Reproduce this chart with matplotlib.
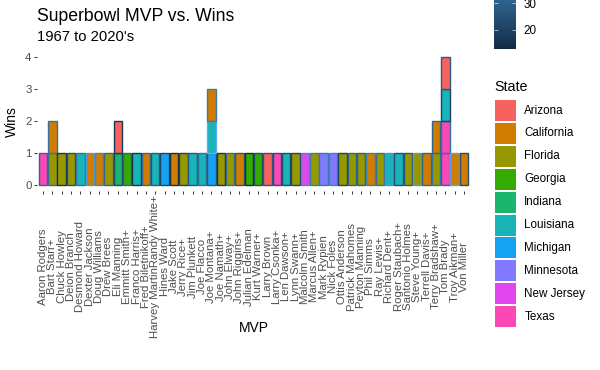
import numpy as np
import pandas as pd
import matplotlib
matplotlib.use("Agg")
import matplotlib.pyplot as plt
from matplotlib.colors import LinearSegmentedColormap, Normalize
from matplotlib.cm import ScalarMappable
from matplotlib.patches import Rectangle

plt.rcParams['font.family'] = ['Liberation Sans', 'DejaVu Sans']

states = ["Arizona", "California", "Florida", "Georgia", "Indiana",
          "Louisiana", "Michigan", "Minnesota", "New Jersey", "Texas"]
state_colors = ["#F6625D", "#CF7C00", "#979700", "#35AA00", "#1CB56F",
                "#18B4B8", "#15A2F0", "#8179FF", "#E048EE", "#FC48B6"]

# one row per Super Bowl: MVP, host state, winning team's points
game_mvp = [
    "Aaron Rodgers", "Bart Starr+", "Bart Starr+", "Chuck Howley", "Deion Branch",
    "Desmond Howard", "Dexter Jackson", "Doug Williams", "Drew Brees",
    "Eli Manning", "Eli Manning", "Emmitt Smith+", "Franco Harris+",
    "Fred Biletnikoff+", "Harvey MartinRandy White+", "Hines Ward", "Jake Scott",
    "Jerry Rice+", "Jim Plunkett", "Joe Flacco", "Joe Montana+", "Joe Montana+",
    "Joe Montana+", "Joe Namath+", "John Elway+", "John Riggins+", "Julian Edelman",
    "Kurt Warner+", "Larry Brown", "Larry Csonka+", "Len Dawson+", "Lynn Swann+",
    "Malcolm Smith", "Marcus Allen+", "Mark Rypien", "Nick Foles", "Ottis Anderson",
    "Patrick Mahomes", "Peyton Manning", "Phil Simms", "Ray Lewis+", "Richard Dent+",
    "Roger Staubach+", "Santonio Holmes", "Steve Young+", "Terrell Davis+",
    "Terry Bradshaw+", "Terry Bradshaw+", "Tom Brady", "Tom Brady", "Tom Brady",
    "Tom Brady", "Troy Aikman+", "Von Miller",
]
game_state = [
    "Texas", "California", "Florida", "Florida", "Florida",
    "Louisiana", "California", "California", "Florida",
    "Arizona", "Indiana", "Georgia", "Louisiana",
    "California", "Louisiana", "Michigan", "California",
    "Florida", "Louisiana", "Louisiana", "Michigan", "California",
    "Louisiana", "Florida", "Florida", "California", "Georgia",
    "Georgia", "Arizona", "Texas", "Louisiana", "Florida",
    "New Jersey", "Florida", "Minnesota", "Minnesota", "Florida",
    "Florida", "Florida", "California", "Florida", "Louisiana",
    "Louisiana", "Florida", "Florida", "California",
    "Florida", "California", "Louisiana", "Texas", "Arizona",
    "Texas", "California", "California",
]
game_pts = [
    31, 35, 33, 16, 24,
    35, 48, 42, 31,
    17, 21, 30, 16,
    32, 27, 21, 14,
    20, 27, 34, 26, 38,
    55, 16, 34, 27, 13,
    23, 27, 24, 23, 21,
    43, 38, 37, 41, 20,
    31, 29, 39, 34, 46,
    24, 27, 49, 31,
    35, 31, 20, 32, 28,
    34, 52, 24,
]

df = pd.DataFrame({"MVP": game_mvp, "State": game_state, "Pts": game_pts})
df["Wins"] = 1
mvps = sorted(df["MVP"].unique())
df["x"] = df["MVP"].map({m: i for i, m in enumerate(mvps)})
df["level"] = df["State"].map({s: i for i, s in enumerate(states)})
# first state level ends up on top of the stack
df = df.sort_values(["x", "level"], ascending=[True, False], kind="stable")
df["bottom"] = df.groupby("x")["Wins"].cumsum() - df["Wins"]

cmap = LinearSegmentedColormap.from_list("gg", ["#132B43", "#56B1F7"])
norm = Normalize(df["Pts"].min(), df["Pts"].max())

W, H = 600, 370
fig = plt.figure(figsize=(6, 3.7), dpi=100)
ax = fig.add_axes([0.0623, 0.4827, 0.7204, 0.3805])

fill = df["State"].map(dict(zip(states, state_colors)))
ax.bar(df["x"], df["Wins"], bottom=df["bottom"], width=0.9,
       color=fill, edgecolor=cmap(norm(df["Pts"])), linewidth=1.0)

ax.set_xlim(-0.6, len(mvps) - 0.4)
ax.set_ylim(-0.2, 4.2)
ax.set_yticks([0, 1, 2, 3, 4])
ax.set_xticks(range(len(mvps)))
ax.set_xticklabels(mvps, rotation=90, va="center", ha="center")
for s in ax.spines.values():
    s.set_visible(False)
ax.tick_params(axis="both", colors="#333333", length=2.2, width=0.7,
               labelcolor="#4D4D4D", labelsize=8.2)
ax.tick_params(axis="x", pad=52)
ax.tick_params(axis="y", pad=2)

fig.text(37 / W, 1 - 20.7 / H, "Superbowl MVP vs. Wins", fontsize=12.7, va="baseline")
fig.text(37 / W, 1 - 40.7 / H, "1967 to 2020's", fontsize=10.6, va="baseline")
fig.text(12.3 / W, 1 - 122 / H, "Wins", fontsize=10, rotation=90, ha="center", va="center")
fig.text(253.5 / W, 1 - 328 / H, "MVP", fontsize=10, ha="center", va="center")

# colour bar for points (mostly above the figure, as in the original)
cax = fig.add_axes([494 / W, 1 - 48.9 / H, 22 / W, 113.4 / H])
cb = fig.colorbar(ScalarMappable(norm=norm, cmap=cmap), cax=cax, ticks=[20, 30])
cb.outline.set_visible(False)
cax.tick_params(length=0, labelsize=8.35, pad=5.5)
for t in [20, 30, 40, 50]:
    cax.hlines(t, 0, 0.2, color="white", alpha=0.6, linewidth=0.7)
    cax.hlines(t, 0.8, 1, color="white", alpha=0.6, linewidth=0.7)

# fill legend
fig.text(494 / W, 1 - 90.7 / H, "State", fontsize=10.3, va="baseline")
for i, (s, c) in enumerate(zip(states, state_colors)):
    top = 100 + 22.9 * i
    fig.patches.append(Rectangle((494.5 / W, 1 - (top + 21) / H), 21.5 / W, 21 / H,
                                 transform=fig.transFigure, facecolor=c,
                                 edgecolor="none", figure=fig))
    fig.text(524.3 / W, 1 - (top + 10.5) / H, s, fontsize=8.35, va="center")

fig.savefig("out.png", dpi=100)
